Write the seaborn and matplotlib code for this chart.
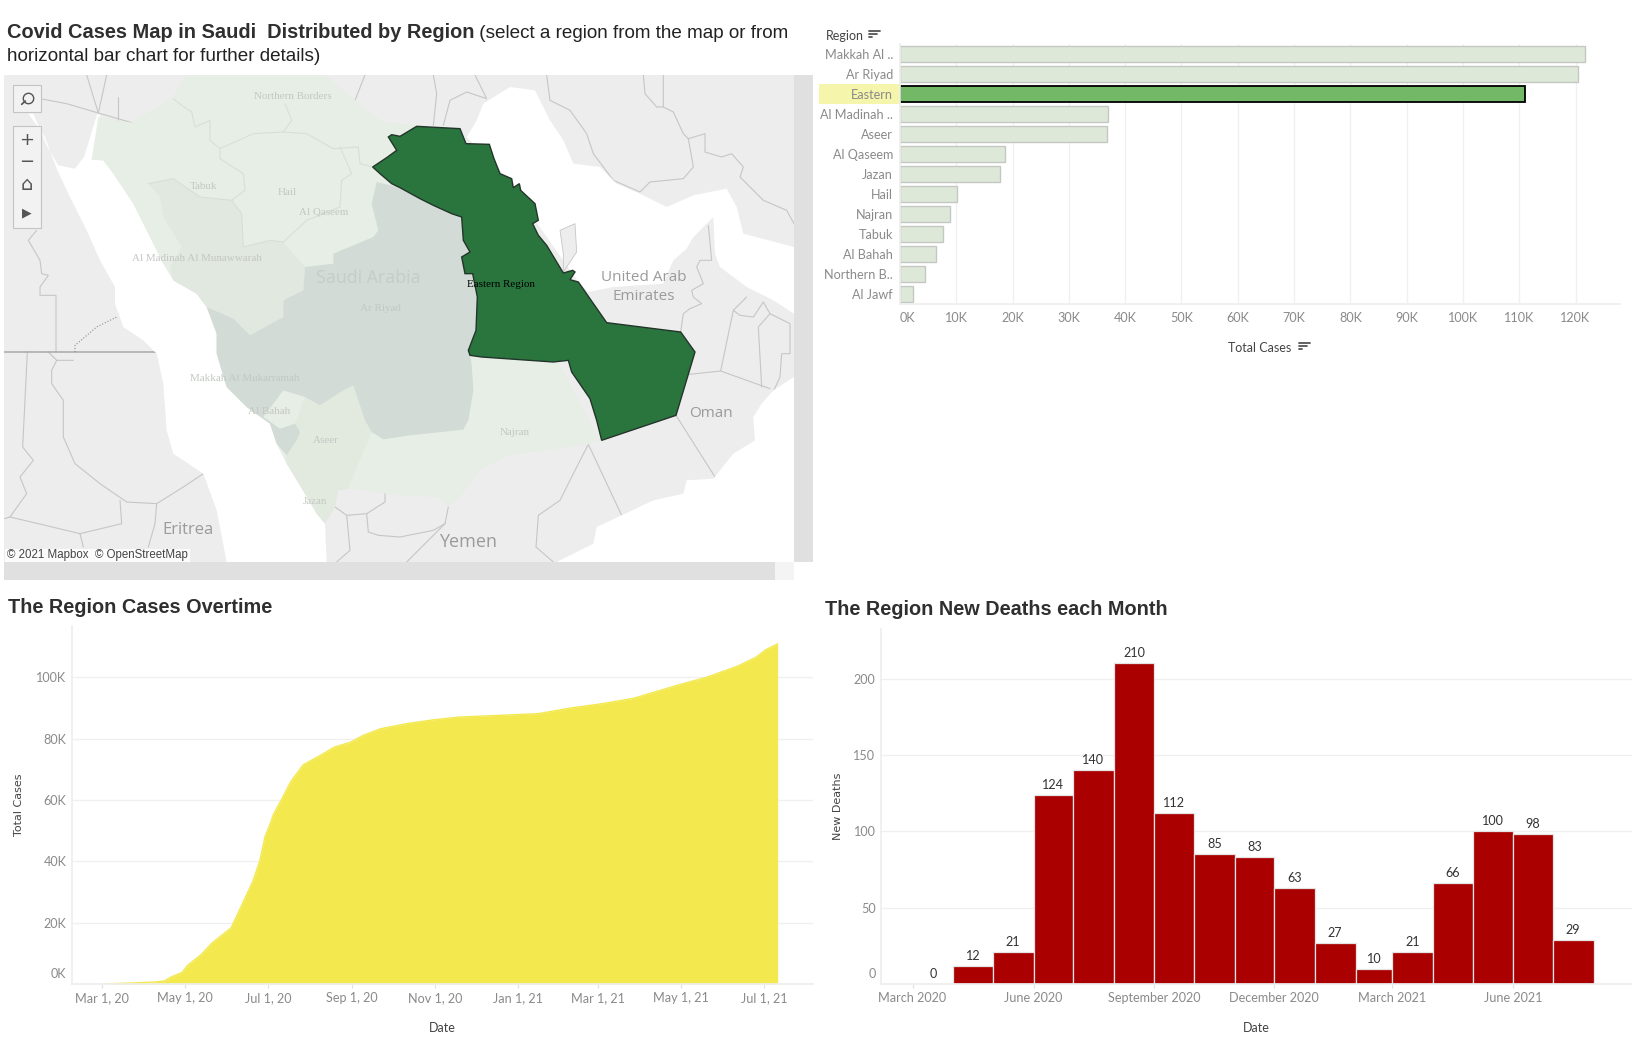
import matplotlib
matplotlib.use("Agg")
import matplotlib.pyplot as plt
import matplotlib.dates as mdates
from matplotlib.patches import Polygon, Rectangle
from matplotlib.transforms import ScaledTranslation, blended_transform_factory
import pandas as pd
import seaborn as sns

# Bar chart: total cases per region
regions = ["Makkah Al ..", "Ar Riyad", "Eastern", "Al Madinah ..", "Aseer", "Al Qaseem", "Jazan",
           "Hail", "Najran", "Tabuk", "Al Bahah", "Northern B..", "Al Jawf"]
region_cases = [121600, 120400, 111000, 37000, 36800, 18600, 17800, 10200, 8900, 7600, 6400, 4500, 2300]
selected_region = "Eastern"
case_ticks = list(range(0, 130000, 10000))

# Area chart: cumulative cases of the selected region
case_dates = ["2020-03-01", "2020-03-21", "2020-04-09", "2020-04-16", "2020-04-21", "2020-04-29",
              "2020-05-03", "2020-05-13", "2020-05-21", "2020-06-04", "2020-06-12", "2020-06-20",
              "2020-06-25", "2020-06-29", "2020-07-03", "2020-07-05", "2020-07-11", "2020-07-18",
              "2020-07-27", "2020-08-07", "2020-08-19", "2020-08-31", "2020-09-09", "2020-09-22",
              "2020-10-12", "2020-10-31", "2020-11-19", "2020-12-16", "2021-01-16", "2021-02-08",
              "2021-03-03", "2021-03-27", "2021-04-11", "2021-04-30", "2021-05-20", "2021-06-12",
              "2021-06-25", "2021-07-02", "2021-07-11"]
total_cases = [0, 300, 650, 1000, 2300, 3800, 6100, 9600, 13400, 18300, 25900, 33500, 40000, 48200,
               52500, 55200, 60100, 66100, 71500, 74200, 77300, 78900, 81100, 83300, 85000, 86200,
               87100, 87600, 88200, 90000, 91400, 93200, 95200, 97700, 100100, 103800, 106600,
               109000, 111000]
area_tick_dates = ["2020-03-01", "2020-05-01", "2020-07-01", "2020-09-01", "2020-11-01",
                   "2021-01-01", "2021-03-01", "2021-05-01", "2021-07-01"]
area_tick_labels = ["Mar 1, 20", "May 1, 20", "Jul 1, 20", "Sep 1, 20", "Nov 1, 20",
                    "Jan 1, 21", "Mar 1, 21", "May 1, 21", "Jul 1, 21"]

# Monthly bars: new deaths of the selected region
death_months = ["2020-03-01", "2020-04-01", "2020-05-01", "2020-06-01", "2020-07-01", "2020-08-01",
                "2020-09-01", "2020-10-01", "2020-11-01", "2020-12-01", "2021-01-01", "2021-02-01",
                "2021-03-01", "2021-04-01", "2021-05-01", "2021-06-01", "2021-07-01"]
last_month_end = "2021-08-01"
new_deaths = [0, 12, 21, 124, 140, 210, 112, 85, 83, 63, 27, 10, 21, 66, 100, 98, 29]
death_tick_dates = ["2020-03-01", "2020-06-01", "2020-09-01", "2020-12-01", "2021-03-01", "2021-06-01"]
death_tick_labels = ["March 2020", "June 2020", "September 2020", "December 2020", "March 2021", "June 2021"]

# Map outlines (units are a third of a pixel)
eastern_shape = [(1118, 290), (1160, 262), (1190, 240), (1165, 200), (1175, 193), (1200, 198), (1250, 168),
                 (1380, 175), (1398, 220), (1468, 222), (1482, 265), (1500, 310), (1535, 325), (1540, 352),
                 (1558, 340), (1562, 360), (1605, 400), (1615, 450), (1598, 460), (1615, 495), (1640, 525),
                 (1690, 608), (1718, 600), (1725, 605), (1710, 628), (1735, 635), (1820, 757), (2042, 785),
                 (2085, 845), (2028, 1035), (1805, 1110), (1790, 1050), (1770, 985), (1715, 905), (1705, 870),
                 (1660, 875), (1445, 860), (1410, 855), (1405, 840), (1428, 780), (1432, 680), (1418, 610),
                 (1395, 610), (1385, 560), (1410, 545), (1390, 510), (1385, 440), (1355, 430), (1300, 405),
                 (1260, 385), (1200, 352), (1175, 340), (1140, 310)]
saudi_shape = [(295, 140), (395, 157), (520, 80), (560, 14), (975, 14), (1145, 155), (1200, 160), (1300, 170),
               (1800, 1110), (1765, 1122), (1520, 1155), (1440, 1200), (1380, 1280), (1345, 1310), (1315, 1280),
               (1200, 1275), (1045, 1255), (1015, 1260), (1005, 1310), (975, 1360), (950, 1330), (920, 1260),
               (860, 1180), (830, 1120), (810, 1060), (740, 1010), (680, 950), (650, 850), (650, 790), (620, 710),
               (590, 670), (520, 630), (490, 580), (440, 480), (400, 400), (340, 310), (310, 270), (275, 268)]
riyadh_makkah_shape = [(1130, 335), (1200, 352), (1260, 385), (1300, 405), (1355, 430), (1385, 440), (1390, 510),
                       (1410, 545), (1385, 560), (1395, 610), (1418, 610), (1432, 680), (1428, 780), (1405, 840),
                       (1410, 855), (1415, 880), (1420, 960), (1405, 1050), (1390, 1078), (1230, 1095), (1150, 1107),
                       (1115, 1085), (1095, 1050), (1060, 945), (1030, 960), (960, 1005), (915, 980), (850, 960),
                       (790, 1040), (840, 1075), (885, 1060), (900, 1085), (890, 1110), (860, 1155), (830, 1120),
                       (810, 1060), (740, 1010), (680, 950), (650, 850), (650, 790), (620, 710), (700, 745), (750, 795),
                       (850, 740), (850, 690), (910, 660), (915, 590), (1000, 580), (1000, 550), (1120, 500),
                       (1135, 480), (1115, 400)]
madinah_shape = [(445, 340), (520, 325), (600, 380), (695, 390), (725, 430), (730, 530), (810, 510), (850, 515),
                 (915, 590), (910, 660), (850, 690), (850, 740), (750, 795), (700, 745), (620, 710), (590, 670),
                 (520, 630), (510, 590), (545, 530), (490, 440), (480, 380)]
aseer_shape = [(915, 980), (960, 1005), (1030, 960), (1060, 945), (1095, 1050), (1115, 1085), (1075, 1180),
               (1045, 1255), (1015, 1260), (1005, 1310), (975, 1360), (950, 1330), (860, 1180), (860, 1155),
               (890, 1110), (900, 1085), (885, 1060)]
water_shapes = [
    # Red Sea with its two northern arms
    [(85, 130), (135, 200), (170, 295), (205, 370), (260, 480), (300, 570), (345, 650), (345, 700), (370, 770),
     (430, 810), (470, 850), (490, 940), (500, 1080), (520, 1150), (610, 1210), (650, 1320), (680, 1475),
     (980, 1475), (975, 1360), (950, 1330), (920, 1260), (860, 1180), (830, 1120), (810, 1060), (740, 1010),
     (680, 950), (650, 850), (650, 790), (620, 710), (590, 670), (520, 630), (490, 580), (440, 480), (400, 400),
     (340, 310), (310, 270), (275, 268), (300, 135), (292, 130), (252, 260), (225, 295), (175, 285), (140, 225),
     (100, 130)],
    # Persian Gulf and Gulf of Oman
    [(1430, 150), (1450, 100), (1530, 50), (1605, 60), (1650, 150), (1690, 210), (1720, 280), (1800, 290),
     (1850, 340), (1920, 370), (2000, 410), (2080, 375), (2180, 355), (2210, 410), (2230, 490), (2382, 530),
     (2382, 730), (2320, 690), (2240, 650), (2160, 590), (2145, 550), (2140, 440), (2080, 500), (2060, 535),
     (2020, 570), (1990, 640), (1840, 650), (1765, 665), (1735, 635), (1500, 300), (1400, 200)],
    # Arabian Sea
    [(2382, 920), (2320, 960), (2285, 1000), (2260, 1040), (2265, 1110), (2200, 1150), (2140, 1225), (2060, 1230),
     (2050, 1270), (1960, 1290), (1865, 1335), (1790, 1370), (1780, 1420), (1670, 1475), (2382, 1475)],
]
qatar_shape = [(1680, 480), (1725, 460), (1730, 545), (1690, 605), (1690, 550)]
border_lines = [
    [(120, 85), (200, 100), (295, 128), (395, 157)],
    [(260, 14), (295, 128), (320, 14)],
    [(355, 80), (355, 150)],
    [(110, 480), (85, 510), (120, 570), (125, 610), (145, 615), (120, 650), (120, 675), (168, 675), (168, 845)],
    [(145, 845), (170, 870), (220, 870)],
    [(82, 845), (68, 1130), (100, 1170), (60, 1220), (80, 1270), (30, 1340), (12, 1345)],
    [(170, 870), (155, 900), (155, 940), (190, 990), (190, 1100), (225, 1180), (300, 1240), (380, 1295), (470, 1300),
     (550, 1250), (610, 1210)],
    [(360, 1290), (365, 1360), (240, 1390), (115, 1360), (30, 1340)],
    [(470, 1300), (465, 1360), (445, 1430)],
    [(240, 1390), (250, 1430)],
    [(1095, 14), (1065, 90)],
    [(1300, 14), (1310, 70), (1300, 165)],
    [(1330, 165), (1350, 90), (1400, 65), (1460, 85), (1425, 14)],
    [(1640, 14), (1650, 90), (1710, 120), (1760, 190), (1780, 250), (1840, 330), (1920, 365), (1950, 335), (2050, 325),
     (2080, 290), (2065, 205), (2115, 190), (2115, 245), (2165, 260), (2195, 250), (2230, 290), (2220, 320), (2290, 390),
     (2360, 420), (2382, 460)],
    [(1930, 14), (1935, 70), (1970, 110), (1990, 110), (1990, 14)],
    [(1990, 110), (2020, 125), (2050, 190), (2065, 205)],
    [(2042, 785), (2050, 730), (2070, 715), (2105, 700), (2080, 680), (2075, 660), (2110, 640), (2090, 590), (2100, 570),
     (2135, 570), (2125, 465)],
    [(2068, 912), (2162, 902), (2310, 955)],
    [(2162, 902), (2200, 720), (2240, 680)],
    [(2200, 720), (2220, 735), (2260, 740), (2290, 695), (2310, 730), (2275, 770), (2285, 950)],
    [(2310, 730), (2370, 760), (2370, 850), (2345, 850), (2340, 920), (2310, 985)],
    [(2028, 1035), (2145, 1220)],
    [(1765, 1122), (1865, 1335)],
    [(1765, 1122), (1720, 1210), (1680, 1290), (1615, 1335), (1608, 1430), (1660, 1475)],
    [(1345, 1310), (1335, 1360), (1300, 1380), (1200, 1400), (1135, 1395), (1105, 1385), (1100, 1330), (1040, 1335),
     (1005, 1310)],
    [(1335, 1360), (1220, 1475)],
    [(1155, 1265), (1155, 1295), (1100, 1330)],
    [(1040, 1335), (1050, 1440), (1010, 1475)],
]
egypt_border = [(12, 845), (470, 845)]
egypt_dotted = [(225, 845), (225, 825), (290, 770), (350, 740)]
region_borders = [
    [(520, 85), (545, 105), (575, 125), (585, 170), (630, 150), (630, 210), (660, 235)],
    [(660, 265), (660, 235), (760, 190), (850, 185), (920, 190), (1000, 235), (1075, 230), (1080, 280), (1118, 290)],
    [(855, 100), (875, 150), (850, 185)],
    [(660, 265), (730, 310), (735, 360), (695, 390)],
    [(1020, 230), (1055, 310), (1025, 330), (1020, 410), (920, 450), (850, 515)],
    [(445, 340), (520, 325), (600, 380), (695, 390), (725, 430), (730, 530), (810, 510), (850, 515)],
]
region_labels = [("Northern Borders", 878, 78), ("Tabuk", 610, 348), ("Hail", 862, 366), ("Al Qaseem", 972, 424),
                 ("Al Madinah Al Munawwarah", 590, 565), ("Ar Riyad", 1140, 715), ("Makkah Al Mukarramah", 735, 925),
                 ("Al Bahah", 808, 1023), ("Aseer", 978, 1111), ("Najran", 1543, 1087), ("Jazan", 945, 1292)]
country_labels = [("Saudi Arabia", 1106, 624, "#c6cdc9", 12.8), ("United Arab", 1932, 622, "#9b9b9b", 11),
                  ("Emirates", 1932, 680, "#9b9b9b", 11), ("Oman", 2134, 1030, "#9b9b9b", 11),
                  ("Yemen", 1405, 1415, "#9b9b9b", 13), ("Eritrea", 563, 1380, "#9b9b9b", 12)]

sns.set_theme(style="whitegrid")
plt.rcParams["font.family"] = ["Lato", "DejaVu Sans"]
plt.rcParams["grid.color"] = "#f0f0f0"
plt.rcParams["axes.edgecolor"] = "#eeeeee"

W, H = 1633, 1041
fig = plt.figure(figsize=(W / 100, H / 100), dpi=100)


def box(left, top, right, bottom):
    # axes from pixel edges
    return fig.add_axes([left / W, 1 - bottom / H, (right - left) / W, (bottom - top) / H])


def ftext(x, y, s, **kw):
    return fig.text(x / W, 1 - y / H, s, **kw)


def sort_icon(x, y):
    for i, w in enumerate([11, 8, 3]):
        fig.add_artist(plt.Line2D([x / W, (x + w) / W], [1 - (y + i * 3.2) / H] * 2, color="#555555", lw=1.3))


def grey_rect(x0, y0, x1, y1, color):
    fig.add_artist(Rectangle((x0 / W, 1 - y1 / H), (x1 - x0) / W, (y1 - y0) / H, fc=color, ec="none",
                             transform=fig.transFigure))


def axis_style(ax):
    ax.tick_params(axis="both", labelsize=9.1, labelcolor="#8a8a8a", color="#e0e0e0")
    ax.tick_params(axis="x", bottom=True, length=3, width=0.8, pad=3)
    ax.tick_params(axis="y", length=0, pad=4)
    sns.despine(ax=ax, top=True, right=True)


# ---- Titles ----
title_font = ["Liberation Sans", "DejaVu Sans"]
t = ftext(7, 38, "Covid Cases Map in Saudi  Distributed by Region", family=title_font, fontsize=14.4,
          fontweight="bold", color="#2f2f2f", va="baseline")
bold_end = t.get_window_extent(fig.canvas.get_renderer()).x1
ftext(bold_end, 38, " (select a region from the map or from", family=title_font, fontsize=13.6,
      color="#222222", va="baseline")
ftext(7, 61, "horizontal bar chart for further details)", family=title_font, fontsize=13.6, color="#222222", va="baseline")
ftext(8, 613, "The Region Cases Overtime", family=title_font, fontsize=14.3, fontweight="bold", color="#2f2f2f", va="baseline")
ftext(825, 615, "The Region New Deaths each Month", family=title_font, fontsize=14.3, fontweight="bold", color="#2f2f2f", va="baseline")

# ---- Map ----
ax_map = box(4, 75, 794, 562)
ax_map.set_xlim(12, 2382)
ax_map.set_ylim(1475, 14)
ax_map.set_facecolor("#ededed")
ax_map.grid(False)
ax_map.set_xticks([])
ax_map.set_yticks([])
for s in ax_map.spines.values():
    s.set_visible(False)
for line in border_lines:
    ax_map.plot(*zip(*line), color="#c6c6c6", lw=0.8, zorder=1)
ax_map.plot(*zip(*egypt_border), color="#a8a8a8", lw=1.1, zorder=1)
ax_map.plot(*zip(*egypt_dotted), color="#8a8a8a", lw=0.8, ls=":", zorder=1)
for shape in water_shapes:
    ax_map.add_patch(Polygon(shape, fc="white", ec="none", zorder=2))
ax_map.add_patch(Polygon(qatar_shape, fc="#ededed", ec="#c6c6c6", lw=0.6, zorder=3))
ax_map.add_patch(Polygon(saudi_shape, fc="#e7eee5", ec="none", zorder=3))
ax_map.add_patch(Polygon(madinah_shape, fc="#e1e8df", ec="none", zorder=4))
ax_map.add_patch(Polygon(aseer_shape, fc="#e2eae0", ec="none", zorder=4))
ax_map.add_patch(Polygon(riyadh_makkah_shape, fc="#d2dbd6", ec="none", zorder=4))
ax_map.add_patch(Polygon(eastern_shape, fc="#2a743e", ec="#23352a", lw=1, zorder=5))
for line in region_borders:
    ax_map.plot(*zip(*line), color="#d8dfd5", lw=0.8, zorder=4)
serif = ["Liberation Serif", "DejaVu Serif"]
for name, x, y in region_labels:
    ax_map.text(x, y, name, family=serif, fontsize=7.9, color="#c3c8c2", ha="center", va="center", zorder=6)
ax_map.text(1502, 642, "Eastern Region", family=serif, fontsize=7.9, color="black", ha="center", va="center", zorder=6)
for name, x, y, col, size in country_labels:
    ax_map.text(x, y, name, fontsize=size, family="Open Sans", color=col, ha="center", va="center", zorder=6)
ax_map.add_patch(Rectangle((14, 1435), 556, 40, fc="white", ec="none", alpha=0.85, zorder=6))
ax_map.text(22, 1455, "© 2021 Mapbox  © OpenStreetMap", family=title_font, fontsize=8.3, color="#444444", va="center", zorder=7)

# map widgets
ax_map.add_patch(Rectangle((40, 43), 82, 82, fc="#f2f2f2", ec="#c4c4c4", lw=0.8, zorder=7))
ax_map.add_patch(Rectangle((40, 167), 82, 305, fc="#f2f2f2", ec="#c4c4c4", lw=0.8, zorder=7))
ax_map.plot([85], [82], "o", ms=7.5, mfc="none", mec="#555555", mew=1, zorder=8)
ax_map.plot([76, 65], [92, 102], color="#555555", lw=1.2, zorder=8)
ax_map.text(80, 210, "+", fontsize=13, color="#555555", ha="center", va="center", family="DejaVu Sans", zorder=8)
ax_map.text(80, 275, "−", fontsize=13, color="#555555", ha="center", va="center", family="DejaVu Sans", zorder=8)
ax_map.text(80, 343, "⌂", fontsize=14, color="#555555", ha="center", va="center", family="DejaVu Sans", zorder=8)
ax_map.text(80, 428, "▶", fontsize=9, color="#555555", ha="center", va="center", family="DejaVu Sans", zorder=8)

# scrollbars
grey_rect(794, 75, 813, 562, "#e0e0e0")
grey_rect(4, 562, 775, 580, "#e0e0e0")
grey_rect(775, 562, 794, 580, "#f4f4f4")

# ---- Region bars ----
ax_bar = box(900, 44, 1620, 304)
palette = {r: ("#72b866" if r == selected_region else "#dde8d8") for r in regions}
sns.barplot(x=region_cases, y=regions, hue=regions, palette=palette, order=regions, width=0.77,
            saturation=1, legend=False, ax=ax_bar)
for r, patch in zip(regions, [p for c in ax_bar.containers for p in c]):
    if r == selected_region:
        patch.set_edgecolor("black")
        patch.set_linewidth(1.3)
    else:
        patch.set_edgecolor("#c4c8c2")
        patch.set_linewidth(1)
ax_bar.set_xlim(0, 127900)
ax_bar.set_ylim(12.5, -0.5)
ax_bar.set_xticks(case_ticks)
ax_bar.set_xticklabels([f"{int(v / 1000)}K" for v in case_ticks])
ax_bar.grid(axis="y", visible=False)
ax_bar.grid(axis="x", visible=True)
axis_style(ax_bar)
ax_bar.tick_params(axis="x", length=0, pad=6)
ax_bar.tick_params(axis="y", pad=5)
ax_bar.get_xticklabels()[0].set_ha("left")
ax_bar.add_patch(Rectangle((-81 / 720, 1.5), 81 / 720, 1, fc="#f5f5ab", ec="none", clip_on=False, zorder=0,
                           transform=blended_transform_factory(ax_bar.transAxes, ax_bar.transData)))
ax_bar.set_xlabel("")
ftext(826, 36, "Region", fontsize=9, color="#444444", va="center")
sort_icon(869, 31)
ftext(1228, 348, "Total Cases", fontsize=9, color="#444444", va="center")
sort_icon(1299, 343)

# ---- Cases over time ----
ax_area = box(72, 626, 813, 984)
dates = pd.to_datetime(case_dates)
sns.lineplot(x=dates, y=total_cases, color="#f3e94f", lw=1, ax=ax_area)
ax_area.fill_between(dates, total_cases, color="#f3e94f", lw=0)
ax_area.set_xlim(pd.Timestamp("2020-02-08"), pd.Timestamp("2021-08-06"))
ax_area.set_ylim(0, 116800)
ax_area.set_yticks(range(0, 120000, 20000))
ax_area.set_yticklabels([f"{v // 1000}K" for v in range(0, 120000, 20000)])
ax_area.set_xticks(mdates.date2num(pd.to_datetime(area_tick_dates)))
ax_area.set_xticklabels(area_tick_labels)
ax_area.grid(axis="x", visible=False)
axis_style(ax_area)
ax_area.set_axisbelow(True)
ax_area.set_xlabel("")
ax_area.set_ylabel("")
ftext(19, 805, "Total Cases", fontsize=8, rotation=90, color="#444444", ha="center", va="center", family="DejaVu Sans")
ftext(442, 1028, "Date", fontsize=9, color="#444444", ha="center", va="center")

# ---- Deaths per month ----
ax_death = box(881, 628.5, 1633, 984)
month_nums = mdates.date2num(pd.to_datetime(death_months))
month_edges = list(month_nums) + [mdates.date2num(pd.Timestamp(last_month_end))]
sns.histplot(x=month_nums, weights=new_deaths, bins=month_edges, color="#aa0000", edgecolor="#e4e4e4",
             linewidth=0.9, alpha=1, ax=ax_death)
ax_death.bar_label(ax_death.containers[0], labels=[str(v) for v in new_deaths], fontsize=9.1, color="#333333", padding=3)
ax_death.set_xlim(mdates.date2num(pd.Timestamp("2020-02-06")), mdates.date2num(pd.Timestamp("2021-08-31")))
ax_death.set_ylim(0, 232.9)
ax_death.set_yticks([0, 50, 100, 150, 200])
ax_death.set_xticks(mdates.date2num(pd.to_datetime(death_tick_dates)))
ax_death.set_xticklabels(death_tick_labels)
ax_death.grid(axis="x", visible=False)
axis_style(ax_death)
ax_death.set_axisbelow(True)
ax_death.set_xlabel("")
ax_death.set_ylabel("")
ftext(838, 806, "New Deaths", fontsize=8, rotation=90, color="#444444", ha="center", va="center", family="DejaVu Sans")
ftext(1256, 1028, "Date", fontsize=9, color="#444444", ha="center", va="center")

# the zero labels sit a little above the axis in both lower charts
for ax in (ax_area, ax_death):
    lab = ax.get_yticklabels()[0]
    lab.set_transform(lab.get_transform() + ScaledTranslation(0, 8 / 72, fig.dpi_scale_trans))

fig.savefig("out.png", dpi=100)
